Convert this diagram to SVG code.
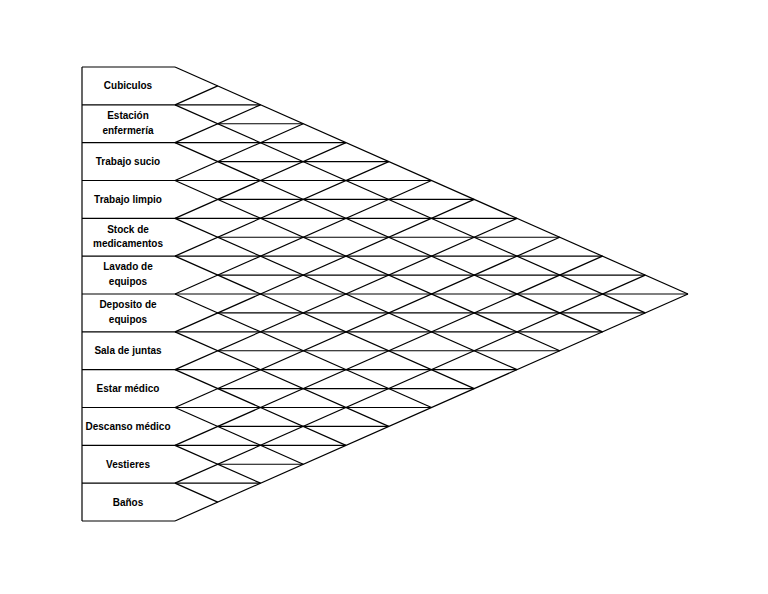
<svg xmlns="http://www.w3.org/2000/svg" width="768" height="594" viewBox="0 0 768 594">
<style>
line,path{stroke:#000;stroke-width:1.2;fill:none}
text{font-family:"Liberation Sans",Arial,sans-serif;font-weight:bold;font-size:10px;text-anchor:middle;fill:#000}
</style>
<rect width="768" height="594" fill="#fff"/>
<g id="connectors">
<line x1="82" y1="67" x2="82" y2="521"/>
<line x1="82" y1="67" x2="175" y2="67"/>
<line x1="82" y1="521" x2="175" y2="521"/>
<line x1="82" y1="104.83" x2="260.5" y2="104.83"/>
<line x1="217.75" y1="123.75" x2="303.25" y2="123.75"/>
<line x1="82" y1="142.67" x2="346" y2="142.67"/>
<line x1="217.75" y1="161.58" x2="388.75" y2="161.58"/>
<line x1="82" y1="180.5" x2="431.5" y2="180.5"/>
<line x1="217.75" y1="199.42" x2="474.25" y2="199.42"/>
<line x1="82" y1="218.33" x2="517" y2="218.33"/>
<line x1="217.75" y1="237.25" x2="559.75" y2="237.25"/>
<line x1="82" y1="256.17" x2="602.5" y2="256.17"/>
<line x1="217.75" y1="275.08" x2="645.25" y2="275.08"/>
<line x1="82" y1="294" x2="688" y2="294"/>
<line x1="217.75" y1="312.92" x2="645.25" y2="312.92"/>
<line x1="82" y1="331.83" x2="602.5" y2="331.83"/>
<line x1="217.75" y1="350.75" x2="559.75" y2="350.75"/>
<line x1="82" y1="369.67" x2="517" y2="369.67"/>
<line x1="217.75" y1="388.58" x2="474.25" y2="388.58"/>
<line x1="82" y1="407.5" x2="431.5" y2="407.5"/>
<line x1="217.75" y1="426.42" x2="388.75" y2="426.42"/>
<line x1="82" y1="445.33" x2="346" y2="445.33"/>
<line x1="217.75" y1="464.25" x2="303.25" y2="464.25"/>
<line x1="82" y1="483.17" x2="260.5" y2="483.17"/>
<line x1="175" y1="67" x2="688" y2="294"/>
<line x1="175" y1="104.83" x2="645.25" y2="312.92"/>
<line x1="175" y1="142.67" x2="602.5" y2="331.83"/>
<line x1="175" y1="180.5" x2="559.75" y2="350.75"/>
<line x1="175" y1="218.33" x2="517" y2="369.67"/>
<line x1="175" y1="256.17" x2="474.25" y2="388.58"/>
<line x1="175" y1="294" x2="431.5" y2="407.5"/>
<line x1="175" y1="331.83" x2="388.75" y2="426.42"/>
<line x1="175" y1="369.67" x2="346" y2="445.33"/>
<line x1="175" y1="407.5" x2="303.25" y2="464.25"/>
<line x1="175" y1="445.33" x2="260.5" y2="483.17"/>
<line x1="175" y1="483.17" x2="217.75" y2="502.08"/>
<line x1="175" y1="521" x2="688" y2="294"/>
<line x1="175" y1="483.17" x2="645.25" y2="275.08"/>
<line x1="175" y1="445.33" x2="602.5" y2="256.17"/>
<line x1="175" y1="407.5" x2="559.75" y2="237.25"/>
<line x1="175" y1="369.67" x2="517" y2="218.33"/>
<line x1="175" y1="331.83" x2="474.25" y2="199.42"/>
<line x1="175" y1="294" x2="431.5" y2="180.5"/>
<line x1="175" y1="256.17" x2="388.75" y2="161.58"/>
<line x1="175" y1="218.33" x2="346" y2="142.67"/>
<line x1="175" y1="180.5" x2="303.25" y2="123.75"/>
<line x1="175" y1="142.67" x2="260.5" y2="104.83"/>
<line x1="175" y1="104.83" x2="217.75" y2="85.92"/>
</g>
<g id="n1"><text x="128" y="89">Cubiculos</text></g>
<g id="n2"><text x="128" y="119">Estación</text><text x="128" y="134">enfermería</text></g>
<g id="n3"><text x="128" y="165">Trabajo sucio</text></g>
<g id="n4"><text x="128" y="203">Trabajo limpio</text></g>
<g id="n5"><text x="128" y="233">Stock de</text><text x="128" y="247">medicamentos</text></g>
<g id="n6"><text x="128" y="270">Lavado de</text><text x="128" y="285">equipos</text></g>
<g id="n7"><text x="128" y="308">Deposito de</text><text x="128" y="323">equipos</text></g>
<g id="n8"><text x="128" y="354">Sala de juntas</text></g>
<g id="n9"><text x="128" y="392">Estar médico</text></g>
<g id="n10"><text x="128" y="430">Descanso médico</text></g>
<g id="n11"><text x="128" y="468">Vestieres</text></g>
<g id="n12"><text x="128" y="506">Baños</text></g>
</svg>
